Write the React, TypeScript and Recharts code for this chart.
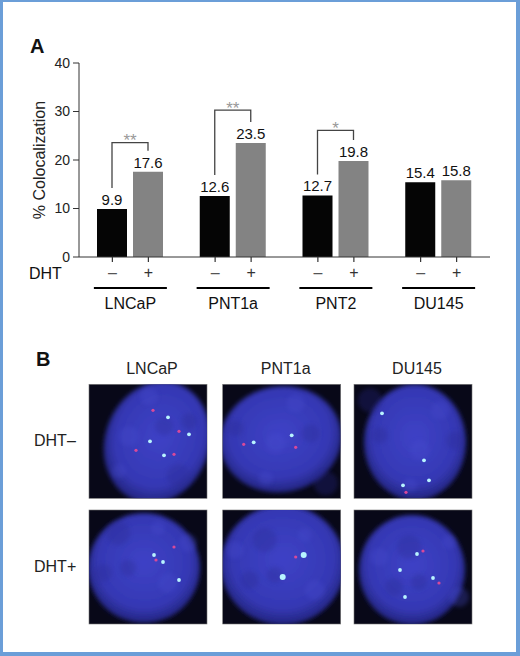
import React from 'react'
import { BarChart, Bar, XAxis, YAxis, LabelList } from 'recharts'

// values
const cellLines = ['LNCaP', 'PNT1a', 'PNT2', 'DU145']
const dhtMinus = [9.9, 12.6, 12.7, 15.4]
const dhtPlus = [17.6, 23.5, 19.8, 15.8]
const significance = ['**', '**', '*', '']
const bracketTop = [23.6, 30.3, 26.1, 0]
const yTicks = [0, 10, 20, 30, 40]

// panel B labels
const imageCols = ['LNCaP', 'PNT1a', 'DU145']
const imageRows = ['DHT\u2013', 'DHT+']

const FONT = '"Liberation Sans", Arial, Helvetica, sans-serif'
const BAR_GAP = 6
const BAR_SIZE = 30
const TICK_OFF = 18

const chartData = cellLines.map((name, i) => ({ name, minus: dhtMinus[i], plus: dhtPlus[i] }))

function GroupTick(props: any) {
  const { x, y, payload, index } = props
  return (
    <g>
      <line x1={x - TICK_OFF} x2={x - TICK_OFF} y1={y} y2={y + 5} stroke="#333" strokeWidth={1.2} />
      <line x1={x + TICK_OFF} x2={x + TICK_OFF} y1={y} y2={y + 5} stroke="#333" strokeWidth={1.2} />
      <text x={x - TICK_OFF} y={y + 21} textAnchor="middle" fontSize={16} fill="#555">{'\u2013'}</text>
      <text x={x + TICK_OFF} y={y + 21} textAnchor="middle" fontSize={16} fill="#333">+</text>
      <line x1={x - 36.5} x2={x + 36.5} y1={y + 31} y2={y + 31} stroke="#000" strokeWidth={2} />
      <text x={x} y={y + 52} textAnchor="middle" fontSize={16} fill="#111">{payload.value}</text>
      {index === 0 && (
        <text x={29} y={y + 22} fontSize={16} fill="#111">DHT</text>
      )}
    </g>
  )
}

function Bracket(props: any) {
  const vb = props.viewBox || props
  const index = props.index
  const sig = significance[index]
  if (!sig) return null
  const { x, y, width, height } = vb
  const zero = y + height
  const k = height / dhtMinus[index]
  const lx = x + width / 2
  const rx = lx + width + BAR_GAP
  const top = zero - bracketTop[index] * k
  const lb = y - 21
  const rb = zero - dhtPlus[index] * k - 21
  return (
    <g>
      <polyline
        points={`${lx},${lb} ${lx},${top} ${rx},${top} ${rx},${rb}`}
        fill="none"
        stroke="#444"
        strokeWidth={1.3}
      />
      <text x={(lx + rx) / 2} y={top + 3.5} textAnchor="middle" fontSize={17} fill="#999">
        {sig}
      </text>
    </g>
  )
}

// decorative stand-ins for the micrographs
const nuclei = [
  { cx: 68, cy: 58, rx: 52, ry: 62, rot: 20 },
  { cx: 58, cy: 55, rx: 61, ry: 53, rot: -10 },
  { cx: 61, cy: 58, rx: 51, ry: 58, rot: 0 },
  { cx: 55, cy: 58, rx: 56, ry: 55, rot: 0 },
  { cx: 60, cy: 55, rx: 62, ry: 60, rot: 0 },
  { cx: 58, cy: 60, rx: 53, ry: 55, rot: 0 },
]
const spots: [number, number, string][][] = [
  [[79, 33, 'c'], [90, 47, 'm'], [100, 50, 'c'], [61, 57, 'c'], [47, 66, 'm'], [75, 71, 'c'], [85, 70, 'm'], [64, 26, 'm']],
  [[21, 60, 'm'], [31, 58, 'c'], [69, 51, 'c'], [73, 63, 'm']],
  [[28, 29, 'c'], [70, 76, 'c'], [75, 96, 'c'], [49, 101, 'c'], [52, 108, 'm']],
  [[85, 37, 'm'], [65, 45, 'c'], [74, 52, 'c'], [90, 70, 'c'], [67, 50, 'm']],
  [[81, 45, 'C'], [73, 47, 'm'], [60, 67, 'C']],
  [[63, 44, 'c'], [69, 41, 'm'], [46, 60, 'c'], [79, 68, 'c'], [85, 73, 'm'], [51, 87, 'c']],
]
const blobs: [number, number, number][] = [
  [30, 40, 10], [80, 80, 12], [50, 90, 9], [90, 25, 8], [20, 75, 7], [65, 30, 9],
]
const colX = [89, 222.7, 354]
const rowY = [384.3, 510]
const IMG_W = 118
const IMG_H = 114

function Micrographs() {
  return (
    <svg width={520} height={656} style={{ position: 'absolute', left: 0, top: 0 }}>
      <defs>
        <radialGradient id="nuc" cx="50%" cy="45%" r="55%">
          <stop offset="0%" stopColor="#3e42c6" />
          <stop offset="75%" stopColor="#3538b4" />
          <stop offset="100%" stopColor="#22247e" />
        </radialGradient>
        <filter id="soft" x="-20%" y="-20%" width="140%" height="140%">
          <feGaussianBlur stdDeviation="2.2" />
        </filter>
        <filter id="glow" x="-100%" y="-100%" width="300%" height="300%">
          <feGaussianBlur stdDeviation="0.7" />
        </filter>
      </defs>
      <text x={36} y={366} fontSize={20} fontWeight="bold" fill="#111">B</text>
      {imageCols.map((c, i) => (
        <text key={c} x={colX[i] + IMG_W / 2 + 4} y={374} textAnchor="middle" fontSize={16} fill="#222">{c}</text>
      ))}
      {imageRows.map((r, j) => (
        <text key={r} x={34} y={rowY[j] + 62} fontSize={16} fill="#222">{r}</text>
      ))}
      {nuclei.map((n, idx) => {
        const col = idx % 3
        const row = Math.floor(idx / 3)
        const ox = colX[col]
        const oy = rowY[row]
        return (
          <g key={idx} transform={`translate(${ox},${oy})`}>
            <clipPath id={`clip${idx}`}>
              <rect width={IMG_W} height={IMG_H} />
            </clipPath>
            <rect width={IMG_W} height={IMG_H} fill="#080818" stroke="#777" strokeWidth={0.6} />
            <g clipPath={`url(#clip${idx})`}>
              <ellipse
                cx={n.cx}
                cy={n.cy}
                rx={n.rx}
                ry={n.ry}
                transform={`rotate(${n.rot},${n.cx},${n.cy})`}
                fill="url(#nuc)"
                filter="url(#soft)"
              />
              {blobs.map(([bx, by, br], b) => (
                <circle key={b} cx={(bx + idx * 13) % 100 + 10} cy={(by + idx * 7) % 90 + 12} r={br}
                  fill={b % 2 === 0 ? '#4a4ed0' : '#2a2c92'} opacity={0.3} filter="url(#soft)" />
              ))}
              {spots[idx].map(([sx, sy, t], s) => (
                <circle key={s} cx={sx} cy={sy} r={t === 'C' ? 3 : t === 'c' ? 1.9 : 1.6}
                  fill={t === 'm' ? '#d8489a' : '#b8f4ff'} filter="url(#glow)" />
              ))}
            </g>
          </g>
        )
      })}
    </svg>
  )
}

export default function App() {
  return (
    <div
      style={{
        position: 'absolute',
        left: 0,
        top: 0,
        width: 520,
        height: 656,
        background: '#fff',
        fontFamily: FONT,
        overflow: 'hidden',
      }}
    >
      <div style={{ position: 'absolute', left: 0, top: 0 }}>
        <BarChart
          width={520}
          height={320}
          data={chartData}
          margin={{ top: 63, right: 30, bottom: 0, left: 0 }}
          barGap={BAR_GAP}
          barSize={BAR_SIZE}
        >
          <text x={30} y={53} fontSize={20} fontWeight="bold" fill="#111">A</text>
          <YAxis
            width={79}
            domain={[0, 40]}
            ticks={yTicks}
            interval={0}
            stroke="#333"
            tickSize={6}
            tickMargin={3}
            tick={{ fontSize: 14, fill: '#222' }}
            label={{ value: '% Colocalization', angle: -90, position: 'center', fontSize: 16, fill: '#222' }}
          />
          <XAxis
            dataKey="name"
            height={63}
            stroke="#333"
            tickLine={false}
            tickSize={0}
            tickMargin={0}
            interval={0}
            tick={<GroupTick />}
          />
          <Bar dataKey="minus" fill="#050505" isAnimationActive={false}>
            <LabelList dataKey="minus" position="top" offset={4} fontSize={15} fill="#111" />
            <LabelList dataKey="minus" content={<Bracket />} />
          </Bar>
          <Bar dataKey="plus" fill="#838383" isAnimationActive={false}>
            <LabelList dataKey="plus" position="top" offset={4} fontSize={15} fill="#111" />
          </Bar>
        </BarChart>
      </div>
      <Micrographs />
      <div
        style={{
          position: 'absolute',
          left: 0,
          top: 0,
          width: 520,
          height: 656,
          boxSizing: 'border-box',
          borderStyle: 'solid',
          borderColor: '#6b9ed8',
          borderWidth: '2px 4px 4px 3px',
          pointerEvents: 'none',
        }}
      />
    </div>
  )
}
